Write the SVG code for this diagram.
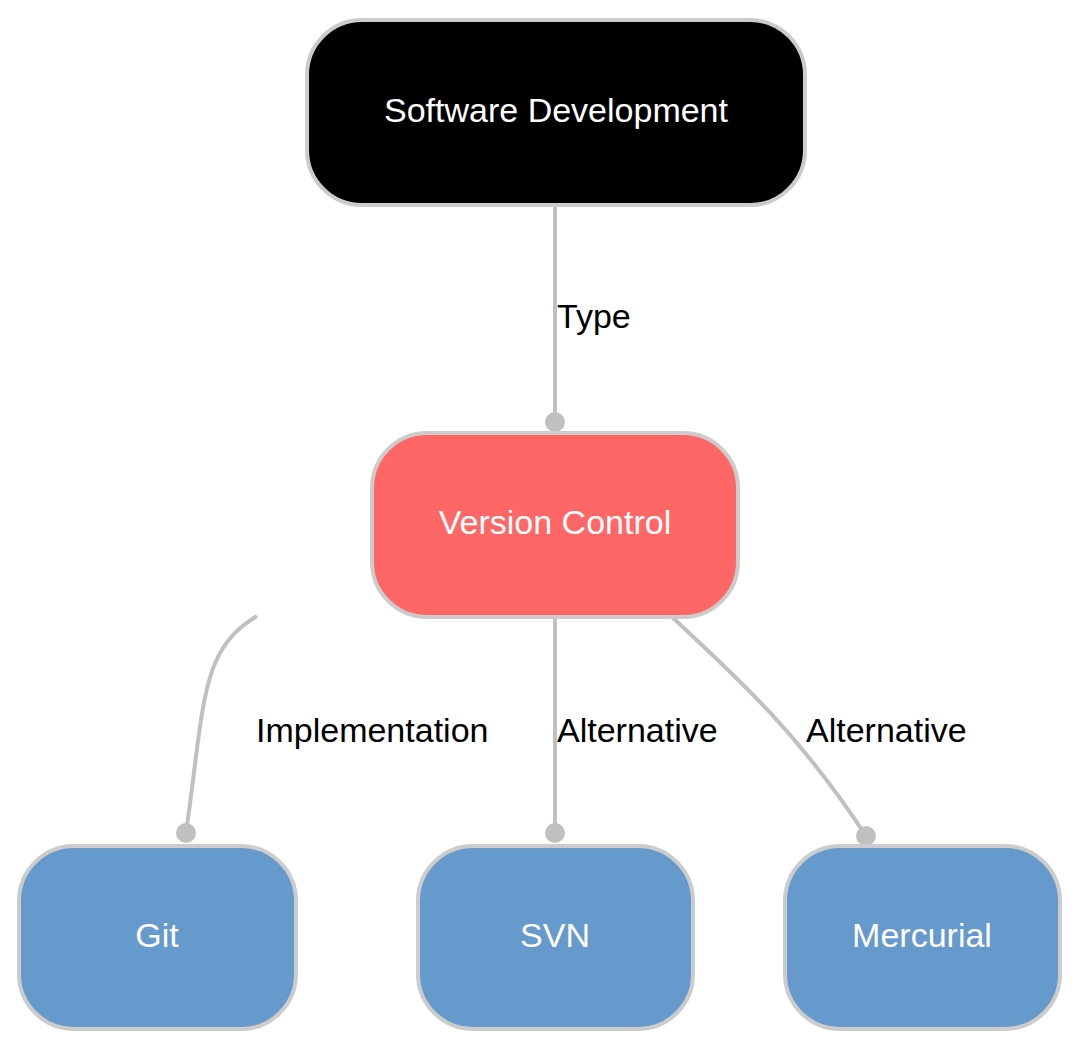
<svg xmlns="http://www.w3.org/2000/svg" width="1080" height="1049" viewBox="0 0 1080 1049">
<style>
.n{stroke:#cccccc;stroke-width:4}
.t{font-family:"Liberation Sans",Arial,sans-serif;font-size:34px;fill:#fff;text-anchor:middle}
.l{font-family:"Liberation Sans",Arial,sans-serif;font-size:34px;fill:#000}
.e{stroke:#c0c0c0;stroke-width:4;fill:none}
.d{fill:#c0c0c0}
</style>
<rect width="1080" height="1049" fill="#fff"/>
<g id="edges">
<path class="e" d="M555,205 L555,422"/><circle class="d" cx="555" cy="422" r="10"/>
<path class="e" d="M257,616 C200,650 205,700 186,833"/><circle class="d" cx="186" cy="833" r="10"/>
<path class="e" d="M555,617 L555,833"/><circle class="d" cx="555" cy="833" r="10"/>
<path class="e" d="M672,617 C740,680 800,735 866,836"/><circle class="d" cx="866" cy="836" r="10"/>
<text class="l" x="557" y="328">Type</text>
<text class="l" x="256" y="742">Implementation</text>
<text class="l" x="557" y="742">Alternative</text>
<text class="l" x="806" y="742">Alternative</text>
</g>
<g id="sd"><rect class="n" x="307" y="20" width="498" height="185" rx="55" fill="#000"/><text class="t" x="556" y="122">Software Development</text></g>
<g id="vc"><rect class="n" x="372" y="433" width="366" height="184" rx="55" fill="#ff6666"/><text class="t" x="555" y="534">Version Control</text></g>
<g id="git"><rect class="n" x="19" y="846" width="277" height="183" rx="55" fill="#6699cc"/><text class="t" x="157" y="947">Git</text></g>
<g id="svn"><rect class="n" x="418" y="846" width="275" height="183" rx="55" fill="#6699cc"/><text class="t" x="555" y="947">SVN</text></g>
<g id="merc"><rect class="n" x="785" y="846" width="275" height="183" rx="55" fill="#6699cc"/><text class="t" x="922" y="947">Mercurial</text></g>
</svg>
